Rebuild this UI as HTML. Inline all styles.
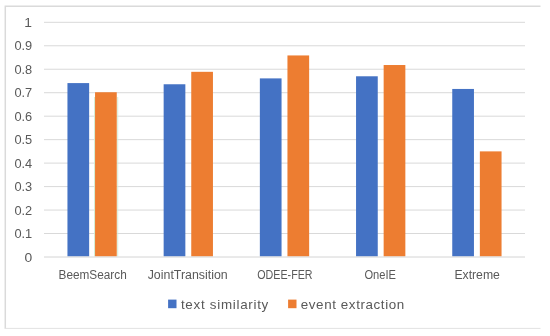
<!DOCTYPE html>
<html><head><meta charset="utf-8"><title>chart</title>
<style>
html,body{margin:0;padding:0;background:#fff;}
body{width:550px;height:336px;overflow:hidden;}
svg{display:block;}
text{font-family:"Liberation Sans",sans-serif;fill:#595959;}
.ax{font-size:12.3px;}
.ay{font-size:12.2px;}
.lg{font-size:13.4px;}
</style></head><body>
<svg width="550" height="336" viewBox="0 0 550 336">
<rect x="0" y="0" width="550" height="336" fill="#ffffff"/>
<path d="M540.5 6.2 H5.3 V328.6" fill="none" stroke="#dadada" stroke-width="1.5"/><path d="M4.6 328.4 H540.5" fill="none" stroke="#e2e2e2" stroke-width="1"/>
<line x1="44.0" x2="525.0" y1="233.53" y2="233.53" stroke="#d9d9d9" stroke-width="1"/>
<line x1="44.0" x2="525.0" y1="210.06" y2="210.06" stroke="#d9d9d9" stroke-width="1"/>
<line x1="44.0" x2="525.0" y1="186.59" y2="186.59" stroke="#d9d9d9" stroke-width="1"/>
<line x1="44.0" x2="525.0" y1="163.12" y2="163.12" stroke="#d9d9d9" stroke-width="1"/>
<line x1="44.0" x2="525.0" y1="139.65" y2="139.65" stroke="#d9d9d9" stroke-width="1"/>
<line x1="44.0" x2="525.0" y1="116.18" y2="116.18" stroke="#d9d9d9" stroke-width="1"/>
<line x1="44.0" x2="525.0" y1="92.71" y2="92.71" stroke="#d9d9d9" stroke-width="1"/>
<line x1="44.0" x2="525.0" y1="69.24" y2="69.24" stroke="#d9d9d9" stroke-width="1"/>
<line x1="44.0" x2="525.0" y1="45.77" y2="45.77" stroke="#d9d9d9" stroke-width="1"/>
<line x1="44.0" x2="525.0" y1="22.30" y2="22.30" stroke="#d9d9d9" stroke-width="1"/>
<rect x="67.45" y="83.09" width="21.7" height="173.31" fill="#4472c4"/>
<rect x="95.05" y="92.24" width="21.7" height="164.16" fill="#ed7d31"/>
<rect x="163.65" y="84.26" width="21.7" height="172.14" fill="#4472c4"/>
<rect x="191.25" y="71.82" width="21.7" height="184.58" fill="#ed7d31"/>
<rect x="259.85" y="78.39" width="21.7" height="178.01" fill="#4472c4"/>
<rect x="287.45" y="55.44" width="21.7" height="200.96" fill="#ed7d31"/>
<rect x="356.05" y="76.28" width="21.7" height="180.12" fill="#4472c4"/>
<rect x="383.65" y="65.02" width="21.7" height="191.38" fill="#ed7d31"/>
<rect x="452.25" y="88.95" width="21.7" height="167.45" fill="#4472c4"/>
<rect x="479.85" y="151.38" width="21.7" height="105.02" fill="#ed7d31"/>
<rect x="94.1" y="97" width="0.9" height="159.40" fill="#d2ead0"/>
<rect x="117.3" y="97" width="0.9" height="159.40" fill="#d2ead0"/>
<line x1="44.0" x2="525.0" y1="257.0" y2="257.0" stroke="#d4d4d4" stroke-width="1"/>
<text x="24.50" y="261.70" textLength="7.7" lengthAdjust="spacingAndGlyphs" class="ay">0</text>
<text x="14.40" y="238.23" textLength="17.8" lengthAdjust="spacingAndGlyphs" class="ay">0.1</text>
<text x="14.40" y="214.76" textLength="17.8" lengthAdjust="spacingAndGlyphs" class="ay">0.2</text>
<text x="14.40" y="191.29" textLength="17.8" lengthAdjust="spacingAndGlyphs" class="ay">0.3</text>
<text x="14.40" y="167.82" textLength="17.8" lengthAdjust="spacingAndGlyphs" class="ay">0.4</text>
<text x="14.40" y="144.35" textLength="17.8" lengthAdjust="spacingAndGlyphs" class="ay">0.5</text>
<text x="14.40" y="120.88" textLength="17.8" lengthAdjust="spacingAndGlyphs" class="ay">0.6</text>
<text x="14.40" y="97.41" textLength="17.8" lengthAdjust="spacingAndGlyphs" class="ay">0.7</text>
<text x="14.40" y="73.94" textLength="17.8" lengthAdjust="spacingAndGlyphs" class="ay">0.8</text>
<text x="14.40" y="50.47" textLength="17.8" lengthAdjust="spacingAndGlyphs" class="ay">0.9</text>
<text x="24.30" y="27.00" textLength="7.7" lengthAdjust="spacingAndGlyphs" class="ay">1</text>
<text x="58.60" y="279.2" textLength="68.10" lengthAdjust="spacingAndGlyphs" class="ax">BeemSearch</text>
<text x="147.70" y="279.2" textLength="80.00" lengthAdjust="spacingAndGlyphs" class="ax">JointTransition</text>
<text x="257.30" y="279.2" textLength="55.30" lengthAdjust="spacingAndGlyphs" class="ax">ODEE-FER</text>
<text x="364.40" y="279.2" textLength="31.50" lengthAdjust="spacingAndGlyphs" class="ax">OneIE</text>
<text x="454.40" y="279.2" textLength="45.50" lengthAdjust="spacingAndGlyphs" class="ax">Extreme</text>
<rect x="168.1" y="299.6" width="8.4" height="8.6" fill="#4472c4"/>
<text x="180.9" y="308.5" textLength="87.4" lengthAdjust="spacing" class="lg">text similarity</text>
<rect x="288.1" y="299.6" width="8.4" height="8.6" fill="#ed7d31"/>
<text x="300.8" y="308.5" textLength="103.4" lengthAdjust="spacing" class="lg">event extraction</text>
</svg>
</body></html>
